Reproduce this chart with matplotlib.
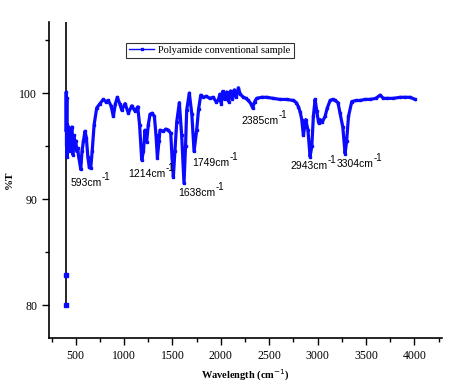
import matplotlib
matplotlib.use("Agg")
import matplotlib.pyplot as plt
from matplotlib.ticker import MultipleLocator

# FTIR spectrum
wavenumber = [400, 402, 405, 408, 410, 415, 420, 425, 430, 440, 450, 460, 470, 480,
              490, 500, 510, 520, 530, 540, 552, 565, 580, 596, 610, 625, 640, 655,
              670, 690, 717, 750, 785, 810, 837, 865, 889, 910, 930, 955, 975, 1010,
              1044, 1079, 1113, 1141, 1160, 1182, 1200, 1216, 1233, 1250, 1268, 1290,
              1313, 1330, 1344, 1360, 1371, 1406, 1430, 1458, 1482, 1495, 1509, 1525,
              1544, 1571, 1595, 1619, 1635, 1647, 1674, 1700, 1723, 1750, 1770, 1792,
              1820, 1851, 1885, 1920, 1950, 1972, 1990, 2005, 2019, 2040, 2060, 2080,
              2100, 2120, 2140, 2160, 2181, 2200, 2233, 2260, 2284, 2310, 2329, 2350,
              2370, 2420, 2474, 2540, 2612, 2680, 2750, 2780, 2802, 2820, 2836, 2853,
              2877, 2900, 2922, 2940, 2956, 2974, 2991, 3010, 3026, 3050, 3077, 3100,
              3129, 3155, 3181, 3210, 3232, 3260, 3284, 3300, 3319, 3353, 3400, 3439,
              3490, 3542, 3600, 3646, 3680, 3715, 3780, 3853, 3900, 3956, 4008]
transmittance = [96.5, 100.1, 95.0, 99.5, 94.0, 97.0, 95.5, 96.8, 94.5, 96.5, 95.0, 96.8,
                 94.2, 96.0, 95.2, 95.5, 94.5, 94.8, 94.0, 93.5, 92.8, 94.5, 95.5, 96.4,
                 95.8, 94.0, 93.0, 92.9, 94.5, 97.0, 98.6, 99.0, 99.4, 99.2, 99.3, 98.8,
                 97.8, 99.0, 99.6, 99.0, 98.4, 99.0, 98.1, 98.8, 98.3, 98.7, 97.0, 93.7,
                 94.5, 96.5, 95.4, 97.0, 98.0, 98.1, 97.8, 96.0, 93.9, 95.5, 96.5, 96.4,
                 96.6, 96.5, 96.2, 94.0, 92.1, 94.5, 97.3, 99.1, 96.0, 91.5, 95.0, 98.4,
                 100.0, 98.0, 94.5, 96.5, 98.5, 99.8, 99.6, 99.7, 99.5, 99.6, 99.2, 99.3,
                 99.9, 99.0, 100.15, 99.4, 100.1, 99.2, 100.2, 99.4, 100.3, 99.6, 100.5,
                 99.9, 99.6, 99.5, 99.3, 99.0, 98.6, 99.2, 99.5, 99.6, 99.6, 99.5, 99.4,
                 99.4, 99.3, 99.1, 98.7, 98.2, 97.5, 96.0, 97.5, 96.5, 94.0, 95.0, 97.8,
                 99.4, 98.3, 97.2, 97.5, 97.3, 97.8, 98.6, 99.3, 99.4, 99.3, 99.1, 98.1,
                 96.8, 94.3, 95.5, 97.8, 99.2, 99.3, 99.3, 99.4, 99.4, 99.5, 99.8, 99.5,
                 99.5, 99.5, 99.6, 99.6, 99.6, 99.4]

# stray low points at the start of the scan
low_x = [400, 400]
low_y = [82.8, 80.0]

peak_labels = ["593", "1214", "1638", "1749", "2385", "2943", "3304"]
label_x = [448, 1044, 1561, 1702, 2209, 2722, 3198]
label_y = [91.5, 92.4, 90.6, 93.45, 97.4, 93.1, 93.3]

fig = plt.figure(figsize=(4.74, 3.87), dpi=100)
ax = fig.add_axes([0.1034, 0.1266, 0.8286, 0.8165])

blue = "#0a0aff"
ax.plot([400, 400], [80, 107], color="black", lw=1.2, zorder=1)
ax.plot(wavenumber, transmittance, color=blue, lw=2.3, marker="s", ms=1.6,
        label="Polyamide conventional sample", zorder=3)
ax.plot(low_x, low_y, "s", color=blue, ms=2.5, zorder=3)

for name, tx, ty in zip(peak_labels, label_x, label_y):
    t = ax.text(tx, ty, name + "cm", fontsize=7.5, family="Liberation Sans",
                va="center", ha="left")
    ax.annotate("-1", xy=(1.0, 0.6), xycoords=t, fontsize=7,
                family="Liberation Sans", va="bottom", ha="left")

ax.set_xlim(224, 4283)
ax.set_ylim(76.9, 106.7)
ax.xaxis.set_major_locator(MultipleLocator(500))
ax.xaxis.set_minor_locator(MultipleLocator(250))
ax.yaxis.set_major_locator(MultipleLocator(10))
ax.yaxis.set_minor_locator(MultipleLocator(5))
ax.tick_params(which="major", direction="out", length=5, width=1, labelsize=8.5)
ax.tick_params(which="minor", direction="out", length=3, width=1)
for lab in ax.get_xticklabels() + ax.get_yticklabels():
    lab.set_family("Liberation Serif")

ax.spines["top"].set_visible(False)
ax.spines["right"].set_visible(False)
ax.spines["left"].set_linewidth(1.2)
ax.spines["bottom"].set_linewidth(1.2)

ax.set_xlabel("Wavelength (cm$^{-1}$)", fontsize=7.5, fontweight="bold",
              family="Liberation Serif", labelpad=4)
ax.set_ylabel("%T", fontsize=8, fontweight="bold", family="Liberation Serif")
ax.yaxis.set_label_coords(-0.09, 0.5)

leg = ax.legend(loc="upper left", bbox_to_anchor=(0.196, 0.935), borderaxespad=0,
                prop={"family": "Liberation Serif", "size": 7.5},
                frameon=True, fancybox=False, edgecolor="black",
                handlelength=2.4, borderpad=0.3, handletextpad=0.4, markerscale=1)
leg.get_frame().set_linewidth(0.8)
for h in leg.legend_handles:
    h.set_linewidth(1.0)

fig.savefig("out.png", dpi=100)
